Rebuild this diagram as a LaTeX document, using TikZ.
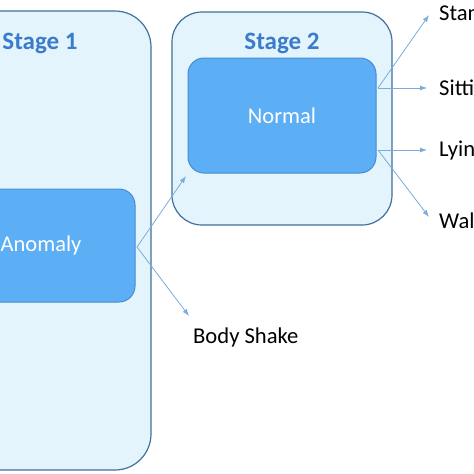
\documentclass[tikz,border=0pt]{standalone}
\usepackage{fontspec}
\setmainfont{Carlito}
\usetikzlibrary{arrows.meta}
\definecolor{outerfill}{HTML}{E3F4FC}
\definecolor{outerdraw}{HTML}{41719C}
\definecolor{innerfill}{HTML}{5CAEF5}
\definecolor{innerdraw}{HTML}{4A8BCF}
\definecolor{stagetext}{HTML}{3B7BCB}
\definecolor{arrowcol}{HTML}{7AADDD}
\tikzset{
  outerbox/.style={draw=outerdraw, fill=outerfill, line width=1.2pt, rounded corners=36pt, inner sep=0pt},
  innerbox/.style={draw=innerdraw, fill=innerfill, line width=1pt, rounded corners=16pt, inner sep=0pt, text=white, font=\fontsize{22.5}{26}\selectfont},
  stagelabel/.style={text=stagetext, font=\fontsize{25}{29}\selectfont\bfseries, inner sep=0pt},
  outlabel/.style={text=black, font=\fontsize{22.6}{26}\selectfont, inner sep=0pt, anchor=base west},
  arr/.style={draw=arrowcol, line width=0.8pt, -{Latex[length=7pt,width=5pt]}}
}
\begin{document}
\begin{tikzpicture}[x=1pt,y=-1pt]
\useasboundingbox (0,0) rectangle (474,474);
\clip (0,0) rectangle (474,474);
\fill[white] (0,0) rectangle (474,474);
% Stage 1
\node[outerbox, minimum width=251pt, minimum height=459pt] (s1) at (25.5,240.5) {};
\node[stagelabel] (s1t) at (40,43) {Stage 1};
\node[innerbox, minimum width=188pt, minimum height=113pt] (anom) at (41,245.5) {Anomaly};
% Stage 2
\node[outerbox, rounded corners=30pt, minimum width=220pt, minimum height=213pt] (s2) at (282,118.5) {};
\node[stagelabel] (s2t) at (282,43) {Stage 2};
\node[innerbox, minimum width=188pt, minimum height=115pt] (norm) at (282,115.5) {Normal};
% labels
\node[outlabel] (stand) at (439,20) {Standing};
\node[outlabel] (sit) at (439,95.5) {Sitting};
\node[outlabel] (lying) at (439,156) {Lying};
\node[outlabel] (walk) at (439,228) {Walking};
\node[outlabel] (body) at (193,343) {Body Shake};
% coordinates
\coordinate (aS) at (137,247);
\coordinate (aT1) at (186,176);
\coordinate (aT2) at (189,316);
\coordinate (n1) at (378,88);
\coordinate (n2) at (378,150);
\coordinate (tStand) at (429,15);
\coordinate (tSit) at (427,88);
\coordinate (tLy) at (427,150);
\coordinate (tWalk) at (429,217);
% arrows
\draw[arr] (aS) -- (aT1);
\draw[arr] (aS) -- (aT2);
\draw[arr] (n1) -- (tStand);
\draw[arr] (n1) -- (tSit);
\draw[arr] (n2) -- (tLy);
\draw[arr] (n2) -- (tWalk);
\end{tikzpicture}
\end{document}
